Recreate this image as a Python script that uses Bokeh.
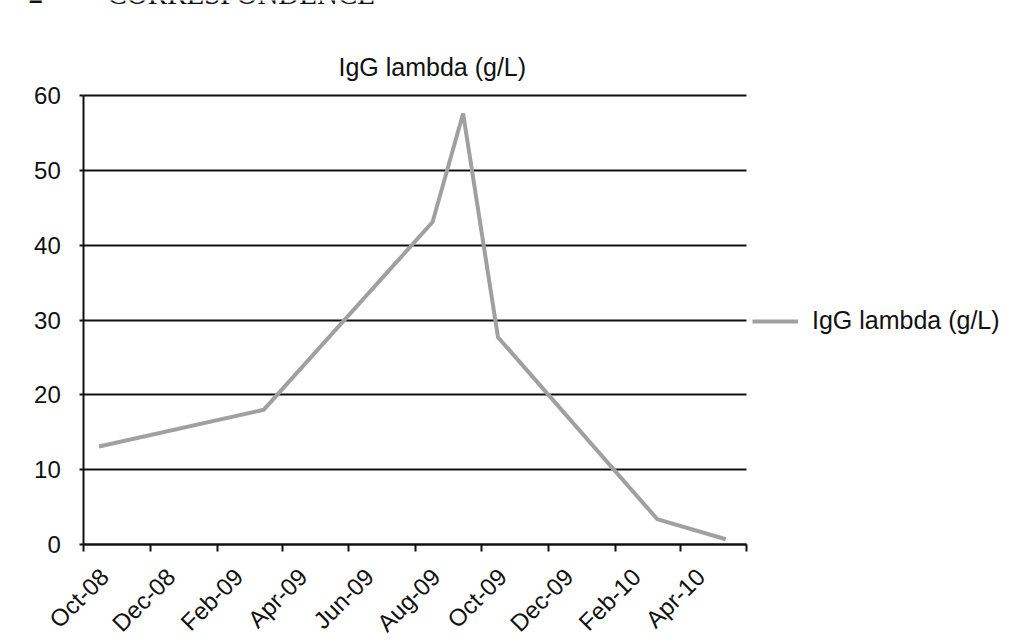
import math
from datetime import date
from bokeh.plotting import figure
from bokeh.models import (FixedTicker, Legend, LegendItem, Range1d, LinearAxis,
                          Label, Grid)
from bokeh.embed import file_html
from bokeh.resources import INLINE

# ---- data ----
dates = ["2008-10-15", "2009-03-15", "2009-08-17", "2009-09-14",
         "2009-10-16", "2010-03-11", "2010-05-13"]
values = [13.1, 18.0, 43.1, 57.6, 27.7, 3.4, 0.7]
tick_dates = ["2008-10-01", "2008-12-01", "2009-02-01", "2009-04-01",
              "2009-06-01", "2009-08-01", "2009-10-01", "2009-12-01",
              "2010-02-01", "2010-04-01", "2010-06-01"]
tick_labels = ["Oct-08", "Dec-08", "Feb-09", "Apr-09", "Jun-09", "Aug-09",
               "Oct-09", "Dec-09", "Feb-10", "Apr-10", ""]
y_ticks = [0, 10, 20, 30, 40, 50, 60]
series_name = "IgG lambda (g/L)"

origin = date.fromisoformat(tick_dates[0])
def days(d):
    return (date.fromisoformat(d) - origin).days

xs = [days(d) for d in dates]
tx = [days(d) for d in tick_dates]
LABEL_SHIFT = 19  # days: labels sit a little right of their tick
lx = [t + LABEL_SHIFT for t in tx]

FONT = "Liberation Sans"
INK = "#111111"
FS = "24px"
FS_BIG = "25px"

# layout geometry (pixels, from the top-left of the page)
W, H = 1023, 641
AX_L, AX_R, AX_T, AX_B = 83.3, 746.0, 95.0, 544.0
span = tx[-1] - tx[0]
kx = (AX_R - AX_L) / span
ky = (AX_B - AX_T) / y_ticks[-1]
x_start = tx[0] - AX_L / kx
x_end = tx[-1] + (W - AX_R) / kx
y_start = -(H - AX_B) / ky
y_end = AX_B / ky

def up(sy):
    """screen y measured from the frame bottom for a page y from the top"""
    return H - sy

p = figure(frame_width=W, frame_height=H,
           min_border_left=0, min_border_top=0, min_border_right=0,
           min_border_bottom=0,
           x_range=Range1d(x_start, x_end), y_range=Range1d(y_start, y_end),
           output_backend="svg", toolbar_location=None)
p.outline_line_color = None
p.background_fill_color = "white"
p.border_fill_color = "white"

r = p.line(xs, values, line_color="#a0a0a0", line_width=4)

p.xgrid.visible = False
p.ygrid.ticker = FixedTicker(ticks=y_ticks)
p.ygrid.grid_line_color = INK
p.ygrid.grid_line_width = 2
if "cross_bounds" in Grid.properties():
    p.ygrid.cross_bounds = (tx[0], tx[-1])

ya = p.yaxis[0]
ya.fixed_location = tx[0]
ya.bounds = (y_ticks[0], y_ticks[-1])
ya.ticker = FixedTicker(ticks=y_ticks)
ya.axis_line_color = INK
ya.axis_line_width = 2
ya.major_tick_line_color = INK
ya.major_tick_line_width = 2
ya.major_tick_in = 0
ya.major_tick_out = 4
ya.minor_tick_line_color = None
ya.major_label_text_font = FONT
ya.major_label_text_font_size = FS
ya.major_label_text_color = INK
ya.major_label_standoff = 19

# tick marks axis
xa = p.xaxis[0]
xa.fixed_location = 0
xa.bounds = (tx[0], tx[-1])
xa.ticker = FixedTicker(ticks=tx)
xa.major_label_overrides = {t: "" for t in tx}
xa.axis_line_color = INK
xa.axis_line_width = 2
xa.major_tick_line_color = INK
xa.major_tick_line_width = 2
xa.major_tick_in = 0
xa.major_tick_out = 7
xa.minor_tick_line_color = None
xa.major_label_standoff = 0
xa.major_label_text_font_size = "1px"

# label axis
la = LinearAxis(ticker=FixedTicker(ticks=lx[:-1]), fixed_location=0,
                major_label_overrides={t: l for t, l in zip(lx, tick_labels)},
                major_label_orientation=math.pi / 4,
                axis_line_color=None, major_tick_line_color=None,
                minor_tick_line_color=None, major_tick_in=0, major_tick_out=0,
                major_label_text_font=FONT, major_label_text_font_size=FS,
                major_label_text_color=INK, major_label_standoff=28)
p.add_layout(la, "below")

# chart title
p.add_layout(Label(x=338, y=up(66), x_units="screen", y_units="screen",
                   text=series_name, text_font=FONT, text_font_size=FS_BIG,
                   text_color=INK, text_baseline="alphabetic"))
# page header, cut off by the top edge of the page
p.add_layout(Label(x=28, y=up(-7), x_units="screen", y_units="screen",
                   text="2", text_font="Liberation Serif", text_font_size="29px",
                   text_font_style="bold", text_color=INK,
                   text_baseline="alphabetic"))
p.add_layout(Label(x=107, y=up(-7), x_units="screen", y_units="screen",
                   text="CORRESPONDENCE", text_font="Liberation Serif",
                   text_font_size="29px", text_color=INK,
                   text_baseline="alphabetic"))

legend = Legend(items=[LegendItem(label=series_name, renderers=[r])],
                location=(752, up(335)))
legend.border_line_color = None
legend.background_fill_alpha = 0
legend.glyph_width = 46
legend.label_standoff = 14
legend.padding = 0
legend.margin = 0
legend.label_text_font = FONT
legend.label_text_font_size = FS_BIG
legend.label_text_color = INK
p.add_layout(legend)

open("out.html", "w").write(file_html(p, INLINE))
